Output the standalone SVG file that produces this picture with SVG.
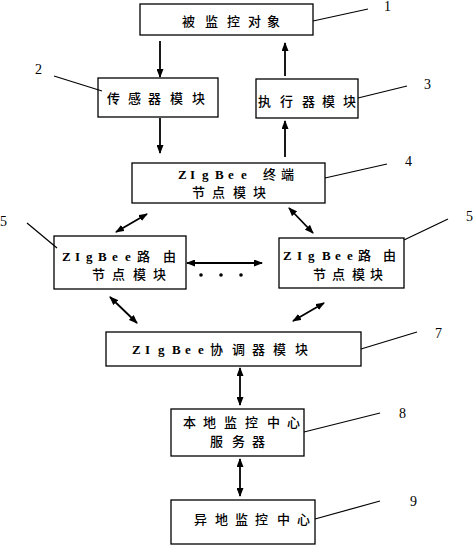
<svg xmlns="http://www.w3.org/2000/svg" width="474" height="545" viewBox="0 0 474 545">
<style>
.box{fill:#fff;stroke:#000;stroke-width:1.3}
.t{font-family:"Noto Sans CJK SC","Noto Sans CJK JP",sans-serif;font-size:13px;fill:#000;font-weight:500}
.lat{font-family:"Liberation Serif",serif;font-weight:bold;font-size:13px}
.num{font-family:"Liberation Serif",serif;font-size:14px;fill:#000}
.ld{stroke:#000;stroke-width:1.2;fill:none}
.ar{stroke:#000;stroke-width:1.8;fill:none}
</style>
<defs>
<marker id="ah" markerUnits="userSpaceOnUse" markerWidth="9" markerHeight="7" refX="8" refY="3.5" orient="auto-start-reverse" viewBox="0 0 9 7">
<path d="M0,0 L9,3.5 L0,7 z" fill="#000"/>
</marker>
</defs>
<rect width="474" height="545" fill="#fff"/>

<g id="n1">
<rect class="box" x="140" y="4" width="173" height="31"/>
<text class="t" y="26" x="182 205 227 248 267">被监控对象</text>
<line class="ld" x1="313" y1="21" x2="368" y2="9"/>
<text class="num" x="384" y="11">1</text>
</g>
<g id="n2">
<rect class="box" x="98" y="78" width="120" height="39"/>
<text class="t" y="103" x="107 128 148 170 192">传感器模块</text>
<line class="ld" x1="102" y1="91" x2="54" y2="76"/>
<text class="num" x="35" y="74">2</text>
</g>
<g id="n3">
<rect class="box" x="256" y="79" width="102" height="39"/>
<text class="t" y="106" x="258 280 302 322 343">执行器模块</text>
<line class="ld" x1="358" y1="98" x2="407" y2="86"/>
<text class="num" x="424" y="89">3</text>
</g>
<g id="n4">
<rect class="box" x="132" y="163" width="193" height="40"/>
<text class="t" y="179"><tspan class="lat" x="178 190 202 215 228 241">ZIgBee</tspan><tspan x="263 281">终端</tspan></text>
<text class="t" y="197" x="192 212 233 253">节点模块</text>
<line class="ld" x1="325" y1="178" x2="387" y2="164"/>
<text class="num" x="405" y="166">4</text>
</g>
<g id="n5a">
<rect class="box" x="54" y="236" width="132" height="53"/>
<text class="t" y="261"><tspan class="lat" x="62 75 86 98 112 125">ZIgBee</tspan><tspan x="137 163">路由</tspan></text>
<text class="t" y="279" x="92 112 133 153">节点模块</text>
<line class="ld" x1="27" y1="223" x2="57" y2="248"/>
<text class="num" x="0" y="226">5</text>
</g>
<g id="n5b">
<rect class="box" x="279" y="238" width="125" height="50"/>
<text class="t" y="260"><tspan class="lat" x="283 297 308 322 335 347">ZIgBee</tspan><tspan x="358 383">路由</tspan></text>
<text class="t" y="279" x="313 332 352 370">节点模块</text>
<line class="ld" x1="404" y1="240" x2="448" y2="219"/>
<text class="num" x="466" y="221">5</text>
</g>
<g id="n7">
<rect class="box" x="106" y="332" width="255" height="34"/>
<text class="t" y="354"><tspan class="lat" x="132 145 158 172 185 198">ZIgBee</tspan><tspan x="210 232 252 273 295">协调器模块</tspan></text>
<line class="ld" x1="361" y1="349" x2="417" y2="332"/>
<text class="num" x="435" y="338">7</text>
</g>
<g id="n8">
<rect class="box" x="171" y="409" width="133" height="47"/>
<text class="t" y="427" x="183 203 224 245 267 287">本地监控中心</text>
<text class="t" y="446" x="210 232 252">服务器</text>
<line class="ld" x1="304" y1="432" x2="380" y2="413"/>
<text class="num" x="399" y="418">8</text>
</g>
<g id="n9">
<rect class="box" x="171" y="500" width="144" height="44"/>
<text class="t" y="524" x="194 215 235 255 277 297">异地监控中心</text>
<line class="ld" x1="315" y1="519" x2="380" y2="501"/>
<text class="num" x="410" y="506">9</text>
</g>

<g id="connectors">
<line class="ar" x1="160" y1="41" x2="160" y2="77" marker-end="url(#ah)"/>
<line class="ar" x1="285" y1="76" x2="285" y2="43" marker-end="url(#ah)"/>
<line class="ar" x1="160" y1="118" x2="160" y2="153" marker-end="url(#ah)"/>
<line class="ar" x1="285" y1="157" x2="285" y2="121" marker-end="url(#ah)"/>
<line class="ar" x1="147" y1="214" x2="116" y2="232" marker-start="url(#ah)" marker-end="url(#ah)"/>
<line class="ar" x1="289" y1="208" x2="313" y2="233" marker-start="url(#ah)" marker-end="url(#ah)"/>
<line class="ar" x1="187" y1="263" x2="262" y2="263" marker-start="url(#ah)" marker-end="url(#ah)"/>
<line class="ar" x1="110" y1="297" x2="137" y2="323" marker-start="url(#ah)" marker-end="url(#ah)"/>
<line class="ar" x1="324" y1="303" x2="293" y2="321" marker-start="url(#ah)" marker-end="url(#ah)"/>
<line class="ar" x1="240" y1="368" x2="240" y2="405" marker-start="url(#ah)" marker-end="url(#ah)"/>
<line class="ar" x1="240" y1="459" x2="240" y2="496" marker-start="url(#ah)" marker-end="url(#ah)"/>
<circle cx="201" cy="275" r="1.8" fill="#000"/>
<circle cx="221" cy="275" r="1.8" fill="#000"/>
<circle cx="241" cy="275" r="1.8" fill="#000"/>
</g>
</svg>
